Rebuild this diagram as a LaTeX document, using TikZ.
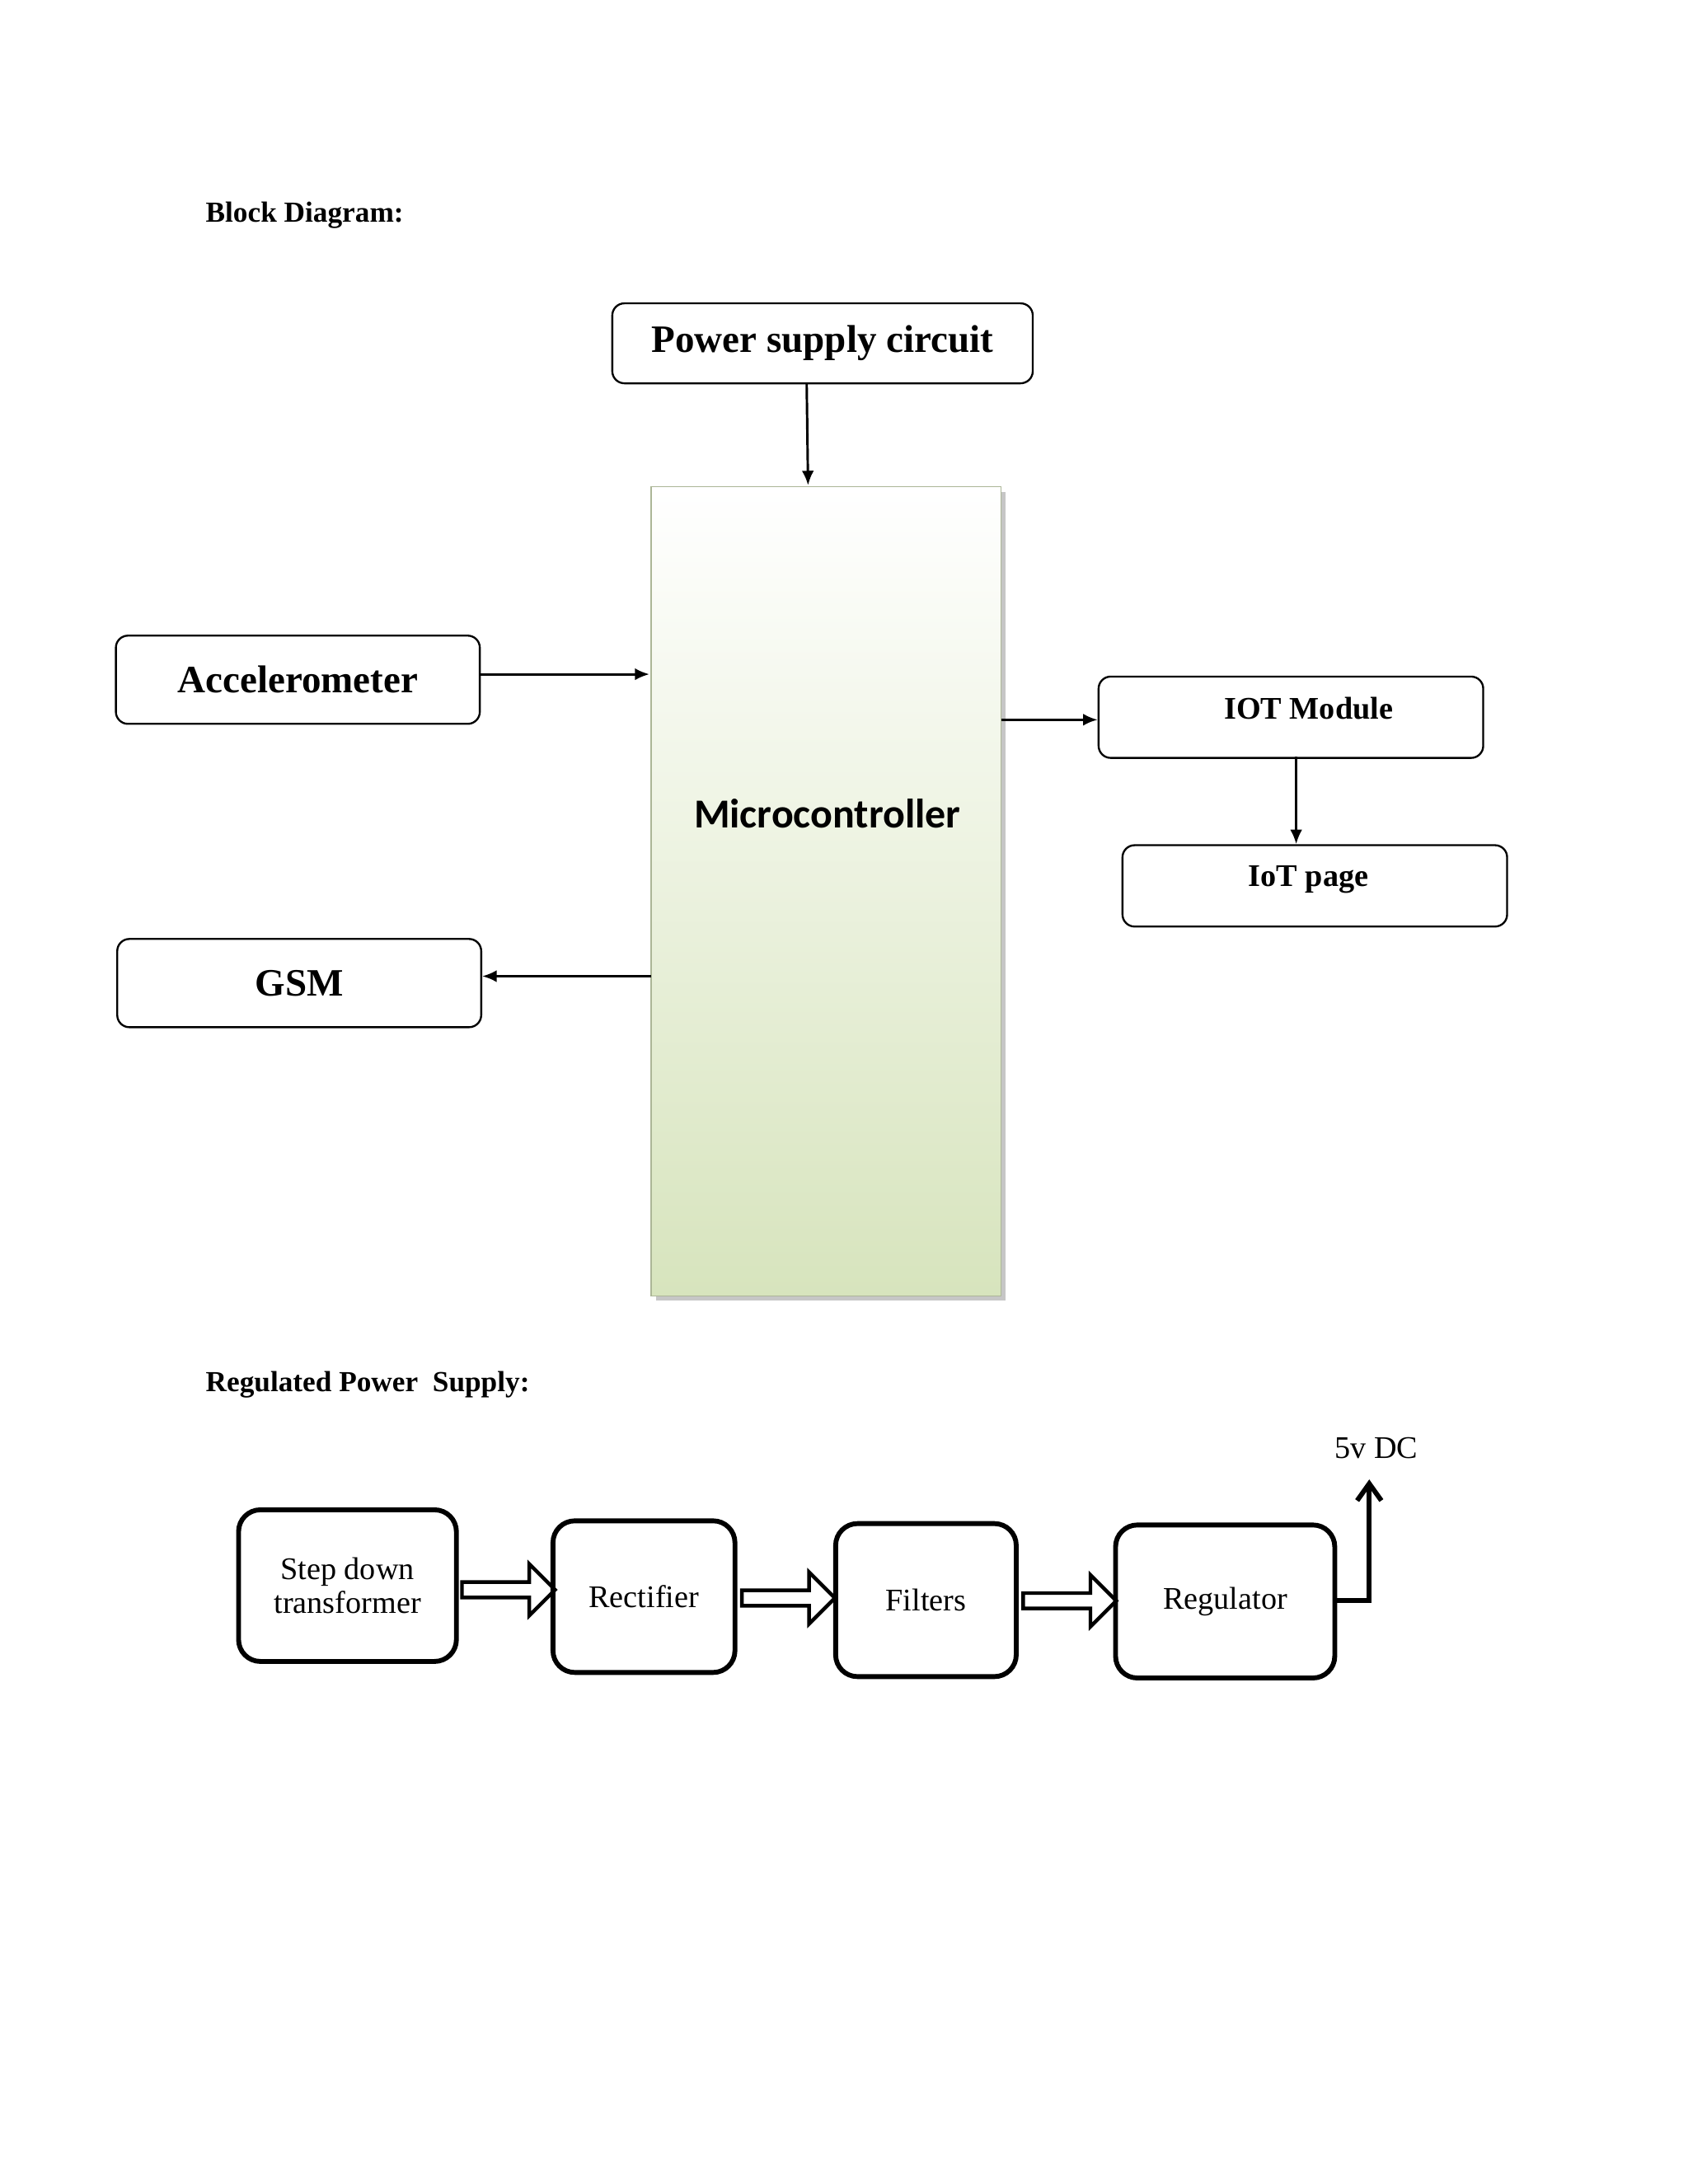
\documentclass[tikz,border=0pt]{standalone}
\usepackage{fontspec}
\setmainfont{Liberation Serif}
\newfontfamily\carlito{Carlito}
\usetikzlibrary{arrows.meta,shapes.arrows}
\definecolor{mcgreen}{HTML}{D7E4BD}
\begin{document}
\begin{tikzpicture}[x=0.02cm,y=-0.02cm,
  blk/.style={draw,rounded corners=5pt,line width=0.8pt,inner sep=0pt,font=\bfseries},
  psb/.style={draw,rounded corners=9pt,line width=2pt,inner sep=0pt,align=center,font=\fontsize{13}{14}\selectfont},
  con/.style={-{Latex[length=6pt,width=5pt]},line width=1pt},
  fat/.style={single arrow,draw,line width=1.5pt,minimum height=1.35cm,minimum width=0.75cm,single arrow head extend=2.5pt,inner sep=0pt,shape border uses incircle}]
\useasboundingbox (0,0) rectangle (1224,1584);
\node[anchor=west,font=\bfseries\fontsize{12}{14}\selectfont] (t1) at (143,156) {Block Diagram:};
\node[blk,minimum width=6.1cm,minimum height=1.16cm,font=\bfseries\fontsize{16}{18}\selectfont] (ps) at (596.5,249) {Power supply circuit};
\fill[gray!45] (476,357) rectangle (729,943);
\shade[top color=white,bottom color=mcgreen,draw=mcgreen!80!black,line width=0.6pt] (472,353) rectangle (726,940);
\node[minimum width=5.08cm,minimum height=11.74cm] (mc) at (599,646.5) {};
\node[font=\carlito\bfseries\fontsize{17}{19}\selectfont] (mct) at (600,590) {Microcontroller};
\node[blk,minimum width=5.28cm,minimum height=1.28cm,font=\bfseries\fontsize{16}{18}\selectfont] (acc) at (216,493) {Accelerometer};
\node[blk,minimum width=5.28cm,minimum height=1.28cm,font=\bfseries\fontsize{16}{18}\selectfont] (gsm) at (217,713) {GSM};
\node[blk,minimum width=5.58cm,minimum height=1.18cm,anchor=north west,font=\bfseries\fontsize{13}{15}\selectfont] (iot) at (796,490) {};
\node[font=\bfseries\fontsize{13}{15}\selectfont] (iott) at (949,514) {IOT Module};
\node[blk,minimum width=5.58cm,minimum height=1.18cm,font=\bfseries\fontsize{13}{15}\selectfont] (iop) at (953.5,642.5) {};
\node[font=\bfseries\fontsize{13}{15}\selectfont] (iopt) at (949,638) {IoT page};
\draw[con] (585,278) -- (586,352);
\draw[con] (acc.east |- 0,489) -- (471,489);
\draw[con] (472,708) -- (gsm.east |- 0,708);
\draw[con] (726,522) -- (iot.west |- 0,522);
\draw[con] (940,549) -- (iop.north -| 940,0);
\node[anchor=west,font=\bfseries\fontsize{12}{14}\selectfont] (t2) at (143,1004) {Regulated Power\ \ Supply:};
\node[psb,minimum width=3.16cm,minimum height=2.2cm] (sd) at (252,1150) {Step down\\transformer};
\node[psb,minimum width=2.64cm,minimum height=2.2cm] (rc) at (467,1158) {Rectifier};
\node[psb,minimum width=2.62cm,minimum height=2.22cm] (fl) at (671.5,1160.5) {Filters};
\node[psb,minimum width=3.18cm,minimum height=2.22cm] (rg) at (888.5,1161.5) {Regulator};
\node[fat] (a1) at (366,1153) {};
\node[fat] (a2) at (569,1159) {};
\node[fat] (a3) at (773,1161) {};
\coordinate (o1) at (993,1161);
\coordinate (o2) at (993,1073);
\draw[line width=2pt,-{Straight Barb[length=7pt,width=10pt]}] (rg.east |- o1) -- (o1) -- (o2);
\node[font=\fontsize{13}{15}\selectfont] (dc) at (998,1050) {5v DC};
\end{tikzpicture}
\end{document}
